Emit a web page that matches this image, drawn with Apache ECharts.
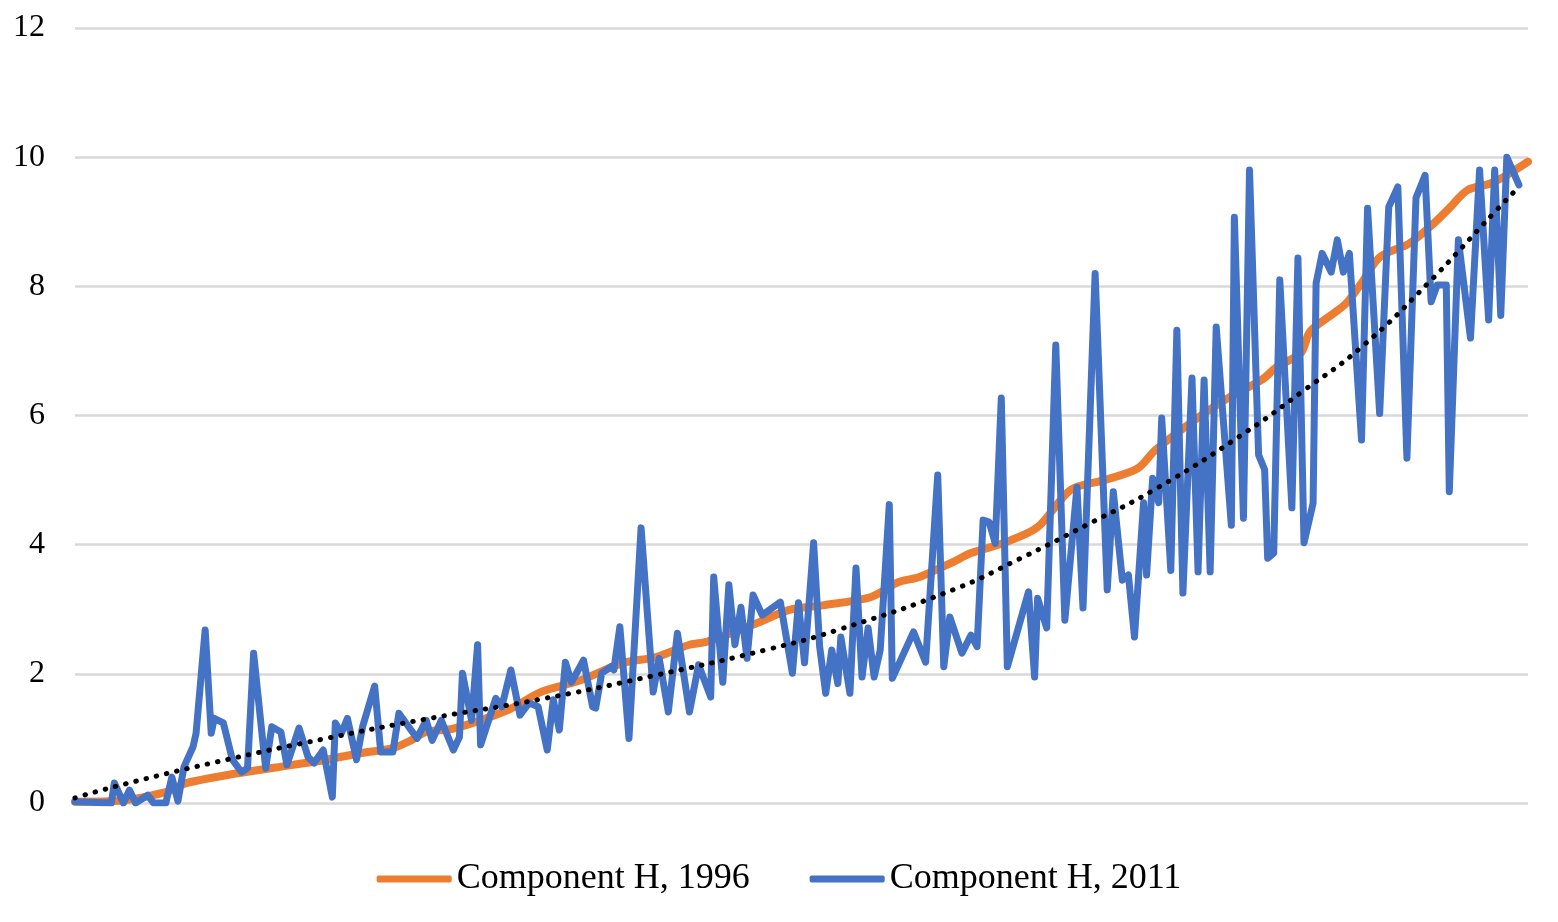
<!DOCTYPE html>
<html>
<head>
<meta charset="utf-8">
<script src="https://cdn.jsdelivr.net/npm/echarts@6/dist/echarts.min.js"></script>
<style>
html,body{margin:0;padding:0;background:#fff;}
#chart{width:1558px;height:922px;}
</style>
</head>
<body>
<div id="chart"></div>
<script>
const seriesNames = ['Component H, 1996', 'Component H, 2011'];
const yTicks = [0, 2, 4, 6, 8, 10, 12];

const h1996 = [
  [0,0.02],[13,0.03],[30,0.17],[37,0.31],[50,0.43],[72,0.59],[83,0.67],[94,0.77],
  [105,0.85],[111,0.97],[116,1.1],[125,1.15],[143,1.44],[154,1.72],[167,1.9],[181,2.17],
  [192,2.26],[203,2.45],[209,2.5],[225,2.78],[236,2.99],[247,3.06],[263,3.19],[272,3.42],
  [279,3.5],[290,3.73],[296,3.87],[307,4.03],[318,4.27],[329,4.85],[340,5.0],[351,5.18],
  [357,5.47],[372,6.0],[382,6.3],[392,6.55],[397,6.75],[405,6.97],[408,7.3],[416,7.59],
  [420,7.74],[425,8.05],[431,8.45],[441,8.67],[449,8.98],[454,9.21],[460,9.49],[468,9.6],
  [474,9.75],[480,9.93]
];

const h2011 = [
  [0,0.02],[12,0.0],[13,0.31],[16,0.0],[18,0.2],[20,0.0],[24,0.12],[26,0.0],[30,0.0],
  [32,0.4],[34,0.03],[36,0.56],[39,0.87],[40,1.08],[43,2.68],[45,1.08],[46,1.31],[49,1.24],
  [52,0.67],[55,0.48],[57,0.54],[59,2.32],[62,0.97],[63,0.54],[65,1.18],[68,1.1],[70,0.59],
  [74,1.16],[77,0.71],[79,0.62],[82,0.82],[85,0.09],[86,1.24],[88,1.08],[90,1.31],[93,0.67],
  [95,1.18],[99,1.81],[101,0.79],[105,0.79],[107,1.39],[111,1.13],[113,1.0],[116,1.28],
  [118,0.97],[121,1.28],[125,0.82],[127,1.02],[128,2.01],[131,1.28],[133,2.45],[134,0.9],
  [139,1.62],[141,1.49],[144,2.06],[147,1.36],[150,1.55],[153,1.49],[156,0.82],[158,1.6],
  [160,1.13],[162,2.18],[164,1.87],[168,2.21],[171,1.49],[172,1.47],[174,2.01],[177,2.11],
  [178,2.06],[180,2.73],[183,1.0],[187,4.26],[191,1.72],[193,2.24],[196,1.41],[199,2.63],
  [203,1.41],[206,2.14],[210,1.64],[211,3.5],[214,1.87],[216,3.38],[218,2.45],[220,3.03],
  [222,2.24],[224,3.22],[227,2.91],[233,3.11],[237,2.01],[239,3.1],[241,2.17],[244,4.03],
  [246,2.42],[248,1.7],[250,2.37],[252,1.85],[253,2.57],[256,1.7],[258,3.64],[260,1.95],
  [262,2.71],[264,1.95],[266,2.37],[269,4.62],[270,1.93],[277,2.65],[281,2.18],[285,5.08],
  [287,2.11],[289,2.88],[293,2.32],[296,2.6],[298,2.42],[300,4.38],[302,4.35],[304,4.02],
  [306,6.27],[308,2.11],[315,3.27],[317,1.95],[318,3.17],[321,2.71],[324,7.09],[327,2.83],
  [331,4.89],[333,3.02],[337,8.2],[341,3.3],[343,4.82],[346,3.45],[348,3.53],[350,2.57],
  [353,4.65],[354,3.53],[356,5.03],[358,4.65],[359,5.96],[362,3.6],[364,7.32],[366,3.25],
  [369,6.58],[371,3.58],[373,6.55],[375,3.58],[377,7.37],[382,4.3],[383,9.07],[386,4.41],
  [388,9.8],[391,5.39],[393,5.16],[394,3.79],[396,3.87],[398,8.1],[402,4.57],[404,8.44],
  [406,4.03],[409,4.64],[410,8.05],[412,8.51],[415,8.22],[417,8.72],[419,8.22],[421,8.51],
  [425,5.62],[427,9.21],[431,6.03],[434,9.23],[437,9.54],[440,5.34],[443,9.37],[446,9.72],
  [448,7.76],[450,8.02],[453,8.02],[454,4.82],[457,8.72],[461,7.2],[464,9.8],[467,7.48],
  [469,9.8],[471,7.55],[473,10.0],[477,9.57]
];

const trend2011 = [
  [0,0.08],[17,0.3],[50,0.67],[83,1.0],[116,1.3],[153,1.6],[192,1.98],[229,2.38],
  [252,2.68],[290,3.3],[312,3.78],[334,4.3],[358,4.89],[387,5.75],[406,6.39],[425,7.06],
  [447,8.05],[469,9.15],[477,9.54]
];

const FONT = '"Liberation Serif", "DejaVu Serif", serif';
const chart = echarts.init(document.getElementById('chart'));
chart.setOption({
  animation: false,
  backgroundColor: '#ffffff',
  grid: { left: 75, right: 30, top: 28, bottom: 119, containLabel: false },
  legend: {
    data: seriesNames,
    bottom: 20,
    left: 'center',
    icon: 'roundRect',
    itemWidth: 75,
    itemHeight: 7,
    itemGap: 60,
    textStyle: { fontFamily: FONT, fontSize: 36, color: '#000', padding: [0, 0, 0, 0] }
  },
  xAxis: {
    type: 'value', min: 0, max: 480,
    axisLine: { show: false }, axisTick: { show: false },
    axisLabel: { show: false }, splitLine: { show: false }
  },
  yAxis: {
    type: 'value', min: yTicks[0], max: yTicks[yTicks.length - 1], interval: 2,
    axisLine: { show: false }, axisTick: { show: false },
    axisLabel: { fontFamily: FONT, fontSize: 32, color: '#000', margin: 30 },
    splitLine: { lineStyle: { color: '#d9d9d9', width: 2.5 } }
  },
  series: [
    {
      name: seriesNames[0], type: 'line', data: h1996, showSymbol: false, smooth: 0.3,
      color: '#ED7D31',
      lineStyle: { color: '#ED7D31', width: 8, cap: 'round', join: 'round' }, z: 2
    },
    {
      name: seriesNames[1], type: 'line', data: h2011, showSymbol: false,
      color: '#4472C4',
      lineStyle: { color: '#4472C4', width: 7, cap: 'round', join: 'round' }, z: 3
    },
    {
      name: 'trend', type: 'line', data: trend2011, showSymbol: false, smooth: true,
      lineStyle: { color: '#000', width: 5, type: [0.5, 10], cap: 'round' }, z: 4
    }
  ]
});
</script>
</body>
</html>
